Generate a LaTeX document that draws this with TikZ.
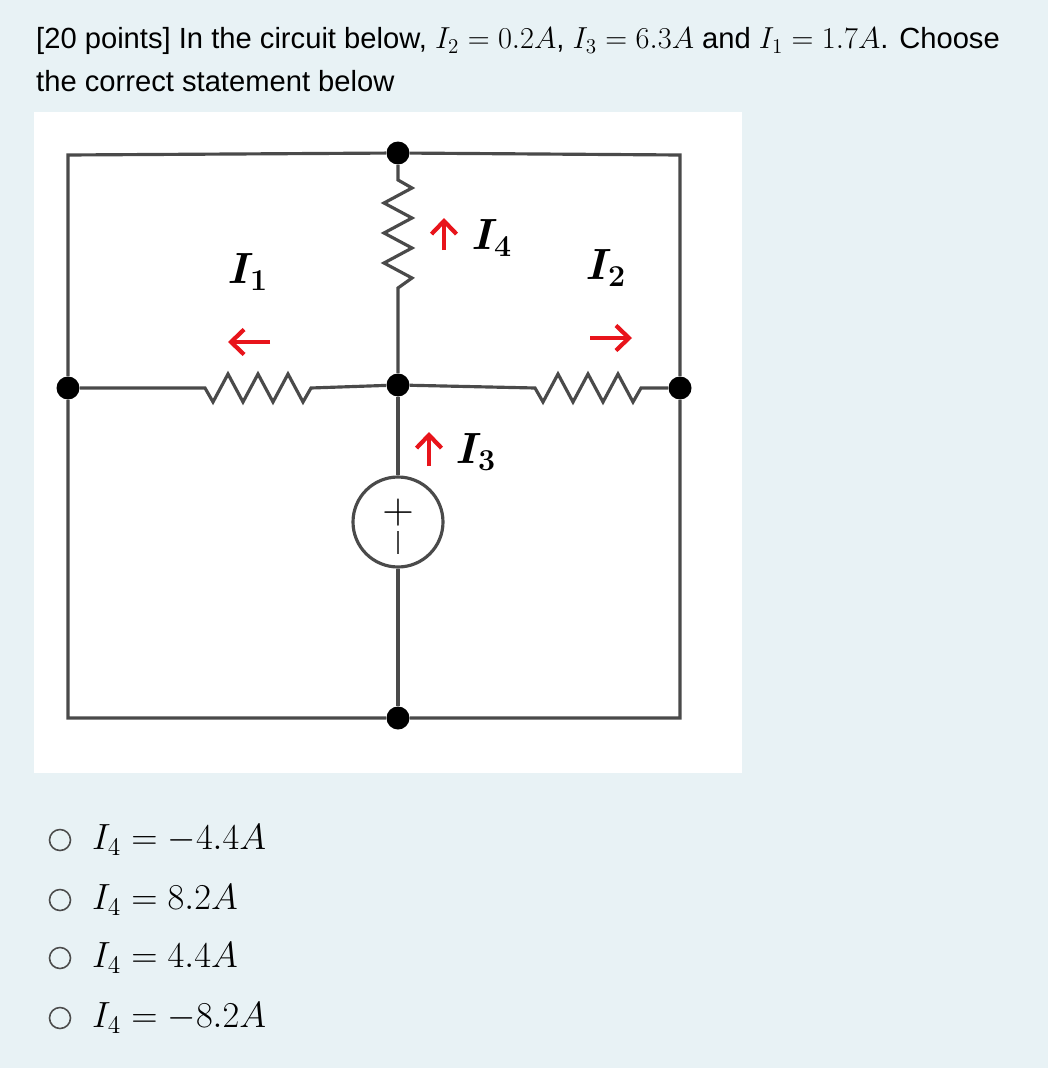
\documentclass[tikz,border=0pt]{standalone}
\usepackage[no-math]{fontspec}
\setmainfont{Liberation Sans}
\usepackage{amsmath}
\usetikzlibrary{arrows.meta}
\definecolor{bgc}{HTML}{E8F2F5}
\definecolor{wire}{HTML}{4A4A4A}
\definecolor{lred}{HTML}{E8141B}
\begin{document}
\begin{tikzpicture}[x=0.02cm,y=-0.02cm,
  wirel/.style={draw=wire,line width=1.8pt},
  dotn/.style={circle,fill=black,inner sep=0pt,minimum size=0.46cm},
  lab/.style={font=\fontsize{24}{26}\selectfont\boldmath},
  rarr/.style={draw=lred,line width=2.4pt,-{Straight Barb[length=2.6mm,width=5mm,line width=2.4pt]}},
  opt/.style={anchor=west,font=\fontsize{20}{22}\selectfont},
  radio/.style={circle,draw=black!70,line width=0.9pt,minimum size=0.42cm,inner sep=0pt}]
\useasboundingbox (0,0) rectangle (1048,1068);
\fill[bgc] (0,0) rectangle (1048,1068);
\fill[white] (34,112) rectangle (742,773);
\node[anchor=west,font=\fontsize{16.6}{19}\selectfont] (h1) at (30,41) {[20 points] In the circuit below, $I_2=0.2A$, $I_3=6.3A$ and $I_1=1.7A$. Choose};
\node[anchor=west,font=\fontsize{16.6}{19}\selectfont] (h2) at (30,81) {the correct statement below};
\node[dotn] (T) at (398,153) {};
\node[dotn] (B) at (398,718) {};
\node[dotn] (L) at (68,388) {};
\node[dotn] (R) at (680,388) {};
\node[dotn] (C) at (398,385) {};
\node[circle,draw=wire,line width=1.8pt,minimum size=1.8cm,inner sep=0pt,fill=white] (S) at (398,522) {};
\coordinate (TL) at (68,155); \coordinate (TR) at (680,155);
\coordinate (BL) at (68,718); \coordinate (BR) at (680,718);
\draw[wirel] (T) -- (TL) -- (L) -- (BL) -- (B) -- (BR) -- (R) -- (TR) -- (T);
\draw[wirel] (T) -- (398,180) -- (412,188) -- (384,203) -- (412,218) -- (384,233) -- (412,248) -- (384,263) -- (412,278) -- (398,288) -- (C);
\draw[wirel] (L) -- (205,388) -- (213,402) -- (228,374) -- (243,402) -- (258,374) -- (273,402) -- (288,374) -- (303,402) -- (311,388) -- (C);
\draw[wirel] (C) -- (535,388) -- (543,402) -- (558,374) -- (573,402) -- (588,374) -- (603,402) -- (618,374) -- (633,402) -- (641,388) -- (R);
\draw[wirel] (C) -- (S.north);
\draw[wirel] (S.south) -- (B);
\node[font=\fontsize{24}{26}\selectfont] (sp) at (398,513) {$+$};
\draw[wire,line width=1.4pt] (398,531) -- (398,554);
\node[lab] (l1) at (248,272) {$I_1$};
\coordinate (a1s) at (270,342); \coordinate (a1e) at (228,342);
\draw[rarr] (a1s) -- (a1e);
\node[lab] (l2) at (606,268) {$I_2$};
\coordinate (a2s) at (590,338); \coordinate (a2e) at (632,338);
\draw[rarr] (a2s) -- (a2e);
\coordinate (a4s) at (444,250); \coordinate (a4e) at (444,218);
\draw[rarr] (a4s) -- (a4e);
\node[lab] (l4) at (492,238) {$I_4$};
\coordinate (a3s) at (429,466); \coordinate (a3e) at (429,432);
\draw[rarr] (a3s) -- (a3e);
\node[lab] (l3) at (476,452) {$I_3$};
\node[radio] (r1) at (60,840) {}; \node[opt] (o1) at (86,840) {$I_4=-4.4A$};
\node[radio] (r2) at (60,900) {}; \node[opt] (o2) at (86,900) {$I_4=8.2A$};
\node[radio] (r3) at (60,958) {}; \node[opt] (o3) at (86,958) {$I_4=4.4A$};
\node[radio] (r4) at (60,1018) {}; \node[opt] (o4) at (86,1018) {$I_4=-8.2A$};
\end{tikzpicture}
\end{document}
